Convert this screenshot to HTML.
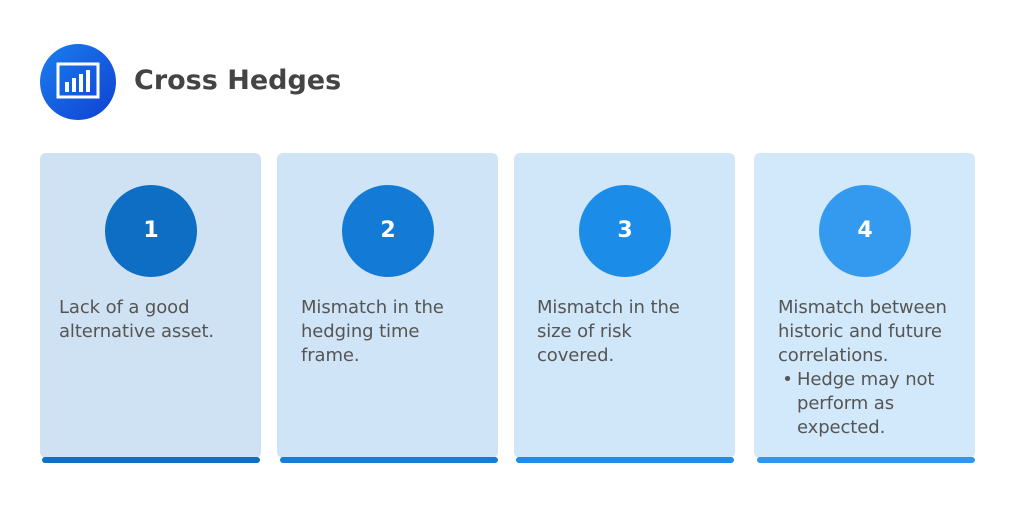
<!DOCTYPE html>
<html><head><meta charset="utf-8"><style>
body{margin:0;width:1024px;height:510px;background:#fff;position:relative;overflow:hidden;font-family:"DejaVu Sans","Liberation Sans",sans-serif;}
.card{position:absolute;top:153px;width:221px;height:305px;border-radius:6px;}
.bar{position:absolute;top:457px;height:6px;border-radius:3px;}
.circ{position:absolute;top:185px;width:92px;height:92px;border-radius:50%;color:#fff;font-weight:bold;font-size:22px;line-height:92px;text-align:center;}
.txt{position:absolute;top:296px;font-size:18px;line-height:24px;color:#555;letter-spacing:-0.1px;white-space:nowrap;}
</style></head><body>
<div style="position:absolute;left:40px;top:44px;width:76px;height:76px;border-radius:50%;background:linear-gradient(135deg,#1a7ff0,#1040d0);"></div>
<svg style="position:absolute;left:56px;top:62px" width="44" height="38"><rect x="2" y="2" width="40" height="33" fill="none" stroke="#fff" stroke-width="3"/><rect x="9" y="20" width="4" height="10" fill="#fff"/><rect x="16" y="16" width="4" height="14" fill="#fff"/><rect x="23" y="12" width="4" height="18" fill="#fff"/><rect x="30" y="8" width="4" height="22" fill="#fff"/></svg>
<div style="position:absolute;left:134px;top:65px;font-size:27px;font-weight:bold;color:#444;">Cross Hedges</div>

<div class="card" style="left:40px;background:#cfe2f3"></div>
<div class="card" style="left:277px;background:#cfe4f7"></div>
<div class="card" style="left:514px;background:#d0e6f9"></div>
<div class="card" style="left:754px;background:#d2e8fb"></div>
<div class="bar" style="left:42px;width:218px;background:#0f6fc4"></div>
<div class="bar" style="left:280px;width:218px;background:#167dd8"></div>
<div class="bar" style="left:516px;width:218px;background:#1e8ce9"></div>
<div class="bar" style="left:757px;width:218px;background:#2f97ef"></div>
<div class="circ" style="left:105px;background:#0e6ec4">1</div>
<div class="circ" style="left:342px;background:#137bd6">2</div>
<div class="circ" style="left:579px;background:#1b8ce8">3</div>
<div class="circ" style="left:819px;background:#349af0">4</div>
<div class="txt" style="left:59px">Lack of a good<br>alternative asset.</div>
<div class="txt" style="left:301px">Mismatch in the<br>hedging time<br>frame.</div>
<div class="txt" style="left:537px">Mismatch in the<br>size of risk<br>covered.</div>
<div class="txt" style="left:778px">Mismatch between<br>historic and future<br>correlations.<br><span style="display:inline-block;width:19px;text-align:center">•</span>Hedge may not<br><span style="padding-left:19px">perform as</span><br><span style="padding-left:19px">expected.</span></div>
</body></html>
